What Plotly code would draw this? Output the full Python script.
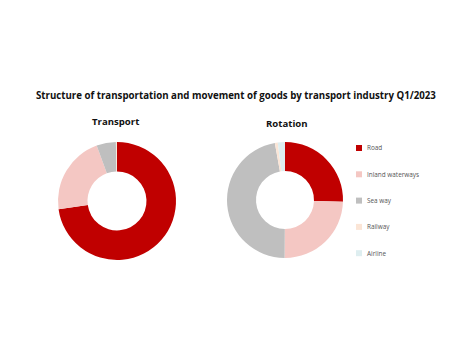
import plotly.graph_objects as go

labels = ["Road", "Inland waterways", "Sea way", "Railway", "Airline"]
transport_values = [72.8, 21.6, 5.3, 0.28, 0.02]
rotation_values = [25.5, 24.6, 47.1, 0.8, 2.0]
colors = ["#c00000", "#f4c7c3", "#bfbfbf", "#fbe5d6", "#deeef0"]

title_text = "Structure of transportation and movement of goods by transport industry Q1/2023"
sub_titles = ["Transport", "Rotation"]

W, H = 474, 355
OFF = 8  # page body margin
FONT = "Open Sans"

def px(x):
    return (x - OFF) / W

def py(y):
    return 1 - (y - OFF) / H

fig = go.Figure()

def dom(cx, cy, r):
    return dict(x=[px(cx - r), px(cx + r)], y=[py(cy + r), py(cy - r)])

for vals, d in [(transport_values, dom(117, 201, 59)), (rotation_values, dom(285, 200, 58))]:
    fig.add_trace(go.Pie(
        labels=labels, values=vals, hole=0.5, sort=False, direction="clockwise",
        rotation=0, marker=dict(colors=colors, line=dict(width=0)),
        textinfo="none", hoverinfo="label+percent", showlegend=False, domain=d,
    ))

annotations = [
    dict(text="<b>" + title_text + "</b>", x=px(236), y=py(95), xref="paper", yref="paper",
         showarrow=False, font=dict(family=FONT, size=9.7, color="#111111"), xanchor="center", yanchor="middle"),
    dict(text="<b>" + sub_titles[0] + "</b>", x=px(115), y=py(121), xref="paper", yref="paper",
         showarrow=False, font=dict(family=FONT, size=9.6, color="#111111"), xanchor="center", yanchor="middle"),
    dict(text="<b>" + sub_titles[1] + "</b>", x=px(287), y=py(123), xref="paper", yref="paper",
         showarrow=False, font=dict(family=FONT, size=9.6, color="#111111"), xanchor="center", yanchor="middle"),
]
shapes = []
for i, (lab, col) in enumerate(zip(labels, colors)):
    yc = 148 + i * 26.3
    shapes.append(dict(type="rect", xref="paper", yref="paper",
                       x0=px(356), x1=px(362), y0=py(yc + 3), y1=py(yc - 3),
                       fillcolor=col, line=dict(width=0)))
    annotations.append(dict(text=lab, x=px(365), y=py(yc), xref="paper", yref="paper",
                            showarrow=False, xanchor="left", yanchor="middle",
                            font=dict(family=FONT, size=6.4, color="#555555")))

fig.update_layout(
    width=W, height=H, margin=dict(l=0, r=0, t=0, b=0),
    paper_bgcolor="white", plot_bgcolor="white",
    annotations=annotations, shapes=shapes,
)

fig.write_html("out.html")
